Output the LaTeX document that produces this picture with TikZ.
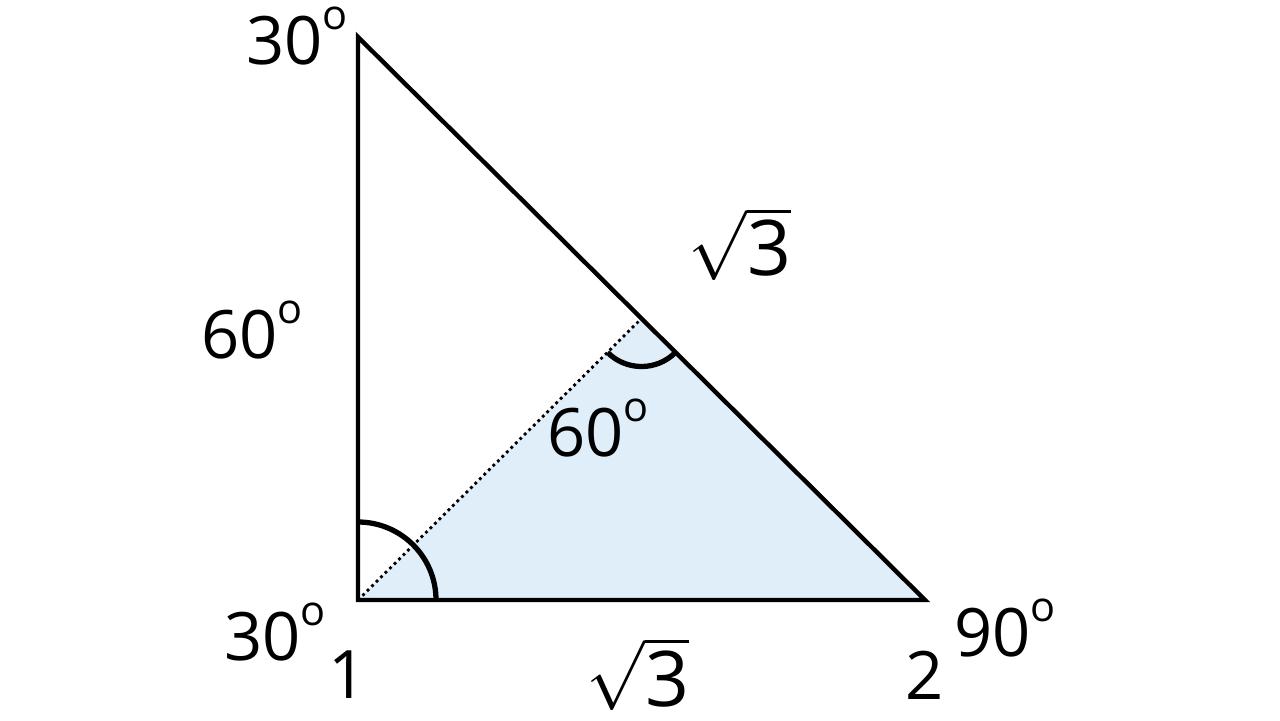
\documentclass[tikz,border=0pt]{standalone}
\usepackage{amsmath}
\usepackage{fontspec}
\setmainfont{Open Sans}
\usepackage{tikz}
\usetikzlibrary{calc}
\definecolor{paleblue}{RGB}{224,238,250}
\newcommand{\dg}{\raisebox{1.0ex}{\scalebox{0.62}{o}}}

\begin{document}
\begin{tikzpicture}[x=0.01cm,y=0.01cm]
  \tikzstyle{lbl}=[inner sep=0pt,font=\fontsize{19}{19}\selectfont]
  \tikzstyle{root}=[lbl,scale=1.15]
  \tikzstyle{side}=[line width=1.25pt,line join=miter]
  \useasboundingbox (0,0) rectangle (1280,720);

  \coordinate (top) at (358,683);
  \coordinate (one) at (358,120);
  \coordinate (two) at (925,120);
  \coordinate (foot) at ($(top)!0.5!(two)$);

  \fill[paleblue] (one) -- (foot) -- (two) -- cycle;
  \draw[densely dotted,line width=0.8pt] (one) -- (foot);
  \draw[side] (top) -- (one) -- (two) -- cycle;

  \draw[line width=1.5pt] ($(one)+(0,78)$) arc[start angle=90,end angle=0,radius=78];
  \draw[line width=1.5pt] ($(foot)+(225:48)$) arc[start angle=225,end angle=315,radius=48];

  \node[lbl] (atop) at (297,684) {30\dg};
  \node[lbl] (aleft) at (252,390) {60\dg};
  \node[lbl] (aone) at (275,88) {30\dg};
  \node[lbl] (ltone) at (348,45) {1};
  \node[root] (base) at (638,46) {$\sqrt{\text{3}}$};
  \node[lbl] (lttwo) at (925,45) {2};
  \node[lbl] (atwo) at (1005,92) {90\dg};
  \node[root] (hyp) at (740,476) {$\sqrt{\text{3}}$};
  \node[lbl] (afoot) at (598,292) {60\dg};
\end{tikzpicture}
\end{document}
